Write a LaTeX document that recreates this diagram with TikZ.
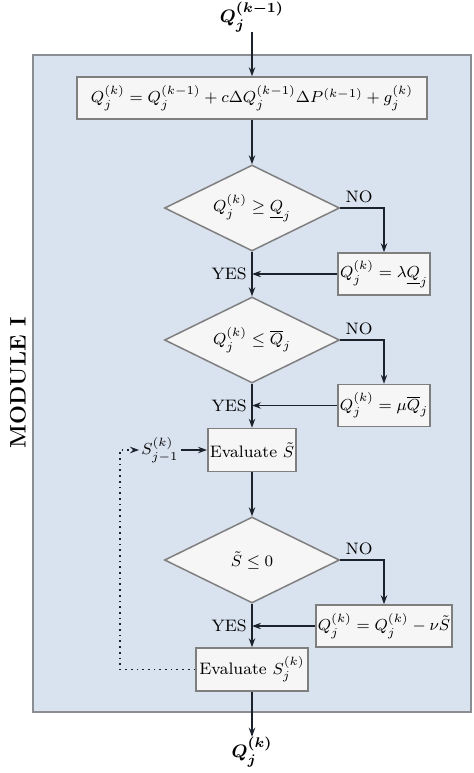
\documentclass[tikz,border=0pt]{standalone}
\usepackage{amsmath}
\usepackage{bm}
\usetikzlibrary{shapes.geometric,arrows.meta,calc}
\definecolor{modfill}{HTML}{D9E2EF}
\definecolor{modline}{HTML}{8A8D92}
\definecolor{boxfill}{HTML}{F6F6F6}
\definecolor{boxline}{HTML}{7F7F7F}
\definecolor{arrcol}{HTML}{1B222C}
\tikzset{
  txt/.style={font=\fontsize{8.3}{10}\selectfont, text=black},
  procbox/.style={txt, draw=boxline, fill=boxfill, line width=0.75pt, rectangle, inner xsep=1pt, inner ysep=1pt},
  decbox/.style={txt, draw=boxline, fill=boxfill, line width=0.75pt, diamond, aspect=2, inner sep=0pt, minimum width=87.5pt, minimum height=43pt},
  flow/.style={draw=arrcol, line width=0.85pt, -{Stealth[length=4.5pt,width=3.2pt]}},
  dotflow/.style={draw=arrcol, line width=0.85pt, dotted, -{Stealth[length=4.5pt,width=3.2pt]}},
  lbl/.style={txt, inner sep=0pt},
  biglbl/.style={font=\fontsize{9.5}{11}\selectfont, inner sep=0pt}
}
\begin{document}
\begin{tikzpicture}[x=0.5pt,y=-0.5pt]
\useasboundingbox (0,0) rectangle (474,773);
% module background
\node[draw=modline, fill=modfill, line width=0.8pt, rectangle, minimum width=219pt, minimum height=328.5pt, inner sep=0pt] (module) at (252,383.5) {};
\node[rotate=90, font=\fontsize{11.2}{13}\selectfont\bfseries, inner sep=0pt] (modlabel) at (18,383) {MODULE I};

% nodes
\node[biglbl] (topQ) at (252,17) {$\bm{Q}_{\bm{j}}^{\bm{(k-1)}}$};
\node[procbox, minimum width=175pt, minimum height=21pt] (box1) at (252,98)
  {$Q_j^{(k)} = Q_j^{(k-1)} + c\Delta Q_j^{(k-1)}\Delta P^{(k-1)} + g_j^{(k)}$};
\node[decbox] (d1) at (252,208) {$Q_j^{(k)} \geq \underline{Q}_j$};
\node[procbox, minimum width=43pt, minimum height=21pt] (b1) at (384,274) {$Q_j^{(k)} = \lambda\underline{Q}_j$};
\node[decbox] (d2) at (252,340) {$Q_j^{(k)} \leq \overline{Q}_j$};
\node[procbox, minimum width=43pt, minimum height=21pt] (b2) at (384,405.5) {$Q_j^{(k)} = \mu\overline{Q}_j$};
\node[procbox, minimum width=43pt, minimum height=21.5pt] (e1) at (252,450) {Evaluate $\tilde{S}$};
\node[lbl, inner sep=1pt] (S) at (160,450) {$S_{j-1}^{(k)}$};
\node[decbox] (d3) at (252,560) {$\tilde{S} \leq 0$};
\node[procbox, minimum width=65pt, minimum height=21pt] (b3) at (384,626) {$Q_j^{(k)} = Q_j^{(k)} - \nu\tilde{S}$};
\node[procbox, minimum width=56pt, minimum height=21.5pt] (e2) at (252,669.5) {Evaluate $S_j^{(k)}$};
\node[biglbl] (botQ) at (252,752) {$\bm{Q}_{\bm{j}}^{\bm{(k)}}$};

% junction coordinates
\coordinate (j1) at (d1.south |- b1.west);
\coordinate (j2) at (d2.south |- b2.west);
\coordinate (j3) at (d3.south |- b3.west);
\coordinate (dl) at (120,669.5);

% connectors
\draw[flow] (topQ.south) -- (box1.north);
\draw[flow] (box1.south) -- (d1.north);
\draw[flow] (d1.east) -| (b1.north);
\draw[flow] (b1.west) -- (j1);
\draw[flow] (d1.south) -- (d2.north);
\draw[flow] (d2.east) -| (b2.north);
\draw[flow] (b2.west) -- (j2);
\draw[flow] (d2.south) -- (e1.north);
\draw[flow] (S.east) -- (e1.west);
\draw[flow] (e1.south) -- (d3.north);
\draw[flow] (d3.east) -| (b3.north);
\draw[flow] (b3.west) -- (j3);
\draw[flow] (d3.south) -- (e2.north);
\draw[flow] (e2.south) -- (botQ.north);
\draw[dotflow] (e2.west) -- (dl) |- (S.west);

% labels
\node[lbl, anchor=south west] (no1) at ($(d1.east)+(5,-5)$) {NO};
\node[lbl, anchor=south west] (no2) at ($(d2.east)+(5,-5)$) {NO};
\node[lbl, anchor=south west] (no3) at ($(d3.east)+(5,-5)$) {NO};
\node[lbl, anchor=east] (yes1) at ($(j1)+(-5,0)$) {YES};
\node[lbl, anchor=east] (yes2) at ($(j2)+(-5,0)$) {YES};
\node[lbl, anchor=east] (yes3) at ($(j3)+(-5,0)$) {YES};
\end{tikzpicture}
\end{document}
